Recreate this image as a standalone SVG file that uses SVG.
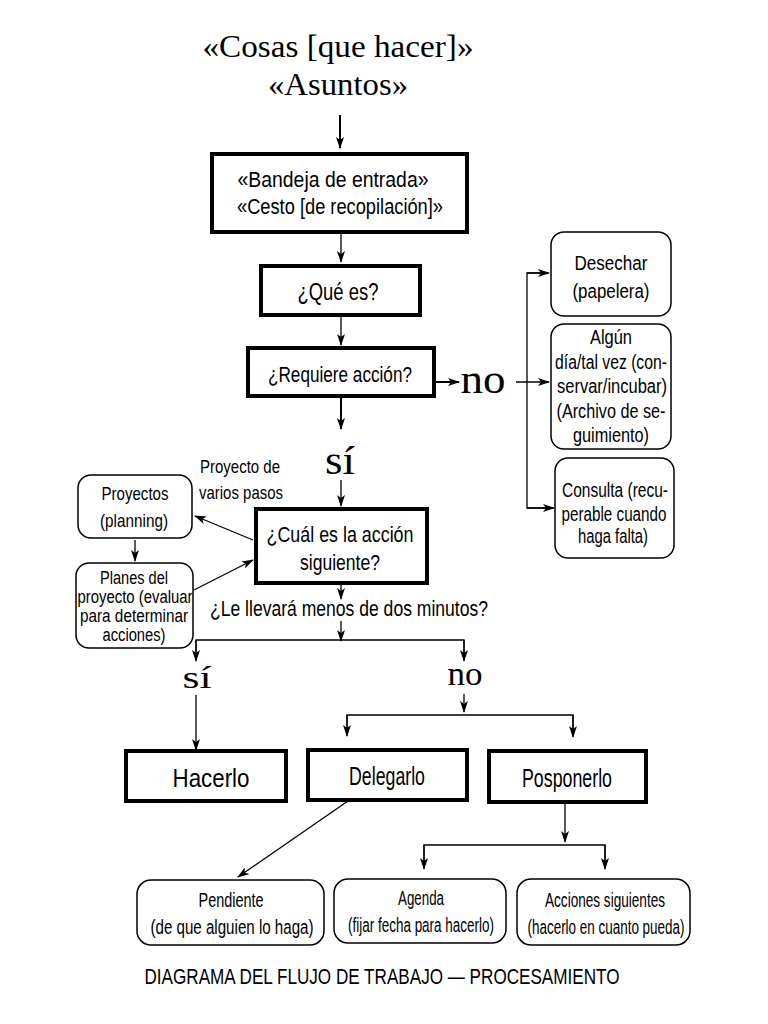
<svg xmlns="http://www.w3.org/2000/svg" width="768" height="1024" viewBox="0 0 768 1024">
<style>
.bx{fill:#fff;stroke:#000;stroke-width:4}
.rb{fill:#fff;stroke:#000;stroke-width:1.5}
.ln{fill:none;stroke:#000;stroke-width:1.3}
.lt{fill:none;stroke:#000;stroke-width:2}
.t{font-family:"Liberation Sans",Arial,sans-serif;fill:#000;text-anchor:middle}
.m{font-size:22px}
.l{font-size:25px}
.s{font-size:20px}
.p{font-size:19px}
.q{font-size:18px}
.b{font-size:20px}
.sr{font-family:"Liberation Serif","Times New Roman",serif;fill:#000;text-anchor:middle}
</style>
<defs>
<marker id="ah" viewBox="0 0 12 8" refX="11" refY="4" markerWidth="12" markerHeight="8" markerUnits="userSpaceOnUse" orient="auto">
<path d="M0,0 L12,4 L0,8 L3,4 z" fill="#000"/>
</marker>
</defs>
<g id="title">
<text class="sr" x="338" y="57" font-size="32" textLength="271" lengthAdjust="spacingAndGlyphs">«Cosas [que hacer]»</text>
<text class="sr" x="338" y="95" font-size="32" textLength="140" lengthAdjust="spacingAndGlyphs">«Asuntos»</text>
</g>
<g id="connectors">
<line class="lt" x1="340" y1="115" x2="340" y2="148" marker-end="url(#ah)"/>
<line class="ln" x1="341" y1="233" x2="341" y2="262" marker-end="url(#ah)"/>
<line class="ln" x1="341" y1="316" x2="341" y2="345" marker-end="url(#ah)"/>
<line class="lt" x1="435" y1="382" x2="459" y2="382" marker-end="url(#ah)"/>
<line class="ln" x1="516" y1="382" x2="549" y2="382" marker-end="url(#ah)"/>
<polyline class="ln" points="548,273 527,273 527,508 553,508"/>
<line class="ln" x1="527" y1="273" x2="549" y2="273" marker-end="url(#ah)"/>
<line class="ln" x1="527" y1="508" x2="554" y2="508" marker-end="url(#ah)"/>
<line class="lt" x1="341" y1="398" x2="341" y2="429" marker-end="url(#ah)"/>
<line class="ln" x1="341" y1="480" x2="341" y2="506" marker-end="url(#ah)"/>
<line class="ln" x1="253" y1="540" x2="195" y2="516" marker-end="url(#ah)"/>
<line class="ln" x1="135" y1="540" x2="135" y2="561" marker-end="url(#ah)"/>
<line class="ln" x1="194" y1="590" x2="253" y2="560" marker-end="url(#ah)"/>
<line class="ln" x1="341" y1="585" x2="341" y2="599" marker-end="url(#ah)"/>
<line class="ln" x1="341" y1="621" x2="341" y2="641" marker-end="url(#ah)"/>
<polyline class="ln" points="196,659 196,640 464,640 464,659"/>
<line class="ln" x1="196" y1="640" x2="196" y2="661" marker-end="url(#ah)"/>
<line class="ln" x1="464" y1="640" x2="464" y2="661" marker-end="url(#ah)"/>
<line class="ln" x1="196" y1="695" x2="196" y2="750" marker-end="url(#ah)"/>
<line class="ln" x1="464" y1="694" x2="464" y2="712" marker-end="url(#ah)"/>
<polyline class="ln" points="347,734 347,715 573,715 573,734"/>
<line class="ln" x1="347" y1="715" x2="347" y2="736" marker-end="url(#ah)"/>
<line class="ln" x1="573" y1="715" x2="573" y2="737" marker-end="url(#ah)"/>
<line class="ln" x1="348" y1="801" x2="238" y2="877" marker-end="url(#ah)"/>
<line class="ln" x1="565" y1="803" x2="565" y2="842" marker-end="url(#ah)"/>
<polyline class="ln" points="424,866 424,845 605,845 605,866"/>
<line class="ln" x1="424" y1="845" x2="424" y2="869" marker-end="url(#ah)"/>
<line class="ln" x1="605" y1="845" x2="605" y2="869" marker-end="url(#ah)"/>
</g>
<g id="bandeja">
<rect class="bx" x="212" y="154" width="255" height="78"/>
<text class="t m" x="333" y="187" textLength="191" lengthAdjust="spacingAndGlyphs">«Bandeja de entrada»</text>
<text class="t m" x="340" y="214" textLength="206" lengthAdjust="spacingAndGlyphs">«Cesto [de recopilación]»</text>
</g>
<g id="quees">
<rect class="bx" x="261" y="266" width="159" height="49"/>
<text class="t" font-size="23" x="338" y="300" textLength="81" lengthAdjust="spacingAndGlyphs">¿Qué es?</text>
</g>
<g id="requiere">
<rect class="bx" x="248" y="348" width="186" height="48"/>
<text class="t m" x="340" y="382" textLength="144" lengthAdjust="spacingAndGlyphs">¿Requiere acción?</text>
</g>
<text class="sr" x="483" y="393" font-size="43" textLength="45" lengthAdjust="spacingAndGlyphs">no</text>
<g id="desechar">
<rect class="rb" x="551" y="232" width="120" height="84" rx="13"/>
<text class="t s" x="611" y="270" textLength="73" lengthAdjust="spacingAndGlyphs">Desechar</text>
<text class="t s" x="611" y="298" textLength="77" lengthAdjust="spacingAndGlyphs">(papelera)</text>
</g>
<g id="algun">
<rect class="rb" x="551" y="324" width="120" height="125" rx="13"/>
<text class="t s" x="611" y="344" textLength="42" lengthAdjust="spacingAndGlyphs">Algún</text>
<text class="t s" x="611" y="369" textLength="112" lengthAdjust="spacingAndGlyphs">día/tal vez (con-</text>
<text class="t s" x="612" y="393" textLength="110" lengthAdjust="spacingAndGlyphs">servar/incubar)</text>
<text class="t s" x="611" y="418" textLength="109" lengthAdjust="spacingAndGlyphs">(Archivo de se-</text>
<text class="t s" x="611" y="442" textLength="76" lengthAdjust="spacingAndGlyphs">guimiento)</text>
</g>
<g id="consulta">
<rect class="rb" x="555" y="458" width="119" height="100" rx="13"/>
<text class="t s" x="615" y="497" textLength="106" lengthAdjust="spacingAndGlyphs">Consulta (recu-</text>
<text class="t s" x="614" y="521" textLength="105" lengthAdjust="spacingAndGlyphs">perable cuando</text>
<text class="t s" x="613" y="543" textLength="70" lengthAdjust="spacingAndGlyphs">haga falta)</text>
</g>
<text class="sr" x="340" y="474" font-size="40" textLength="30" lengthAdjust="spacingAndGlyphs">sí</text>
<g id="proyectolabel">
<text class="t p" x="240" y="473" textLength="80" lengthAdjust="spacingAndGlyphs">Proyecto de</text>
<text class="t p" x="241" y="499" textLength="84" lengthAdjust="spacingAndGlyphs">varios pasos</text>
</g>
<g id="proyectos">
<rect class="rb" x="78" y="475" width="114" height="63" rx="13"/>
<text class="t p" x="135" y="500" textLength="67" lengthAdjust="spacingAndGlyphs">Proyectos</text>
<text class="t p" x="134" y="527" textLength="68" lengthAdjust="spacingAndGlyphs">(planning)</text>
</g>
<g id="planes">
<rect class="rb" x="76" y="563" width="117" height="85" rx="13"/>
<text class="t q" x="134" y="584" textLength="68" lengthAdjust="spacingAndGlyphs">Planes del</text>
<text class="t q" x="135" y="603" textLength="115" lengthAdjust="spacingAndGlyphs">proyecto (evaluar</text>
<text class="t q" x="134" y="622" textLength="108" lengthAdjust="spacingAndGlyphs">para determinar</text>
<text class="t q" x="134" y="641" textLength="63" lengthAdjust="spacingAndGlyphs">acciones)</text>
</g>
<g id="cual">
<rect class="bx" x="256" y="509" width="171" height="74"/>
<text class="t m" x="340" y="542" textLength="147" lengthAdjust="spacingAndGlyphs">¿Cuál es la acción</text>
<text class="t m" x="340" y="570" textLength="80" lengthAdjust="spacingAndGlyphs">siguiente?</text>
</g>
<text class="t m" x="349" y="616" textLength="278" lengthAdjust="spacingAndGlyphs">¿Le llevará menos de dos minutos?</text>
<text class="sr" x="197" y="688" font-size="32" textLength="29" lengthAdjust="spacingAndGlyphs">sí</text>
<text class="sr" x="465" y="685" font-size="33" textLength="35" lengthAdjust="spacingAndGlyphs">no</text>
<g id="hacerlo">
<rect class="bx" x="126" y="751" width="160" height="50"/>
<text class="t l" x="211" y="787" textLength="77" lengthAdjust="spacingAndGlyphs">Hacerlo</text>
</g>
<g id="delegarlo">
<rect class="bx" x="308" y="750" width="159" height="50"/>
<text class="t l" x="387" y="785" textLength="76" lengthAdjust="spacingAndGlyphs">Delegarlo</text>
</g>
<g id="posponerlo">
<rect class="bx" x="489" y="751" width="157" height="51"/>
<text class="t l" x="567" y="787" textLength="90" lengthAdjust="spacingAndGlyphs">Posponerlo</text>
</g>
<g id="pendiente">
<rect class="rb" x="137" y="880" width="187" height="65" rx="14"/>
<text class="t b" x="231" y="907" textLength="65" lengthAdjust="spacingAndGlyphs">Pendiente</text>
<text class="t b" x="232" y="934" textLength="163" lengthAdjust="spacingAndGlyphs">(de que alguien lo haga)</text>
</g>
<g id="agenda">
<rect class="rb" x="334" y="879" width="172" height="64" rx="14"/>
<text class="t b" x="421" y="905" textLength="46" lengthAdjust="spacingAndGlyphs">Agenda</text>
<text class="t b" x="421" y="932" textLength="146" lengthAdjust="spacingAndGlyphs">(fijar fecha para hacerlo)</text>
</g>
<g id="acciones">
<rect class="rb" x="517" y="879" width="173" height="66" rx="14"/>
<text class="t b" x="605" y="907" textLength="120" lengthAdjust="spacingAndGlyphs">Acciones siguientes</text>
<text class="t b" x="606" y="934" textLength="157" lengthAdjust="spacingAndGlyphs">(hacerlo en cuanto pueda)</text>
</g>
<text class="t" font-size="22.5" x="382" y="984" textLength="475" lengthAdjust="spacingAndGlyphs">DIAGRAMA DEL FLUJO DE TRABAJO — PROCESAMIENTO</text>
</svg>
